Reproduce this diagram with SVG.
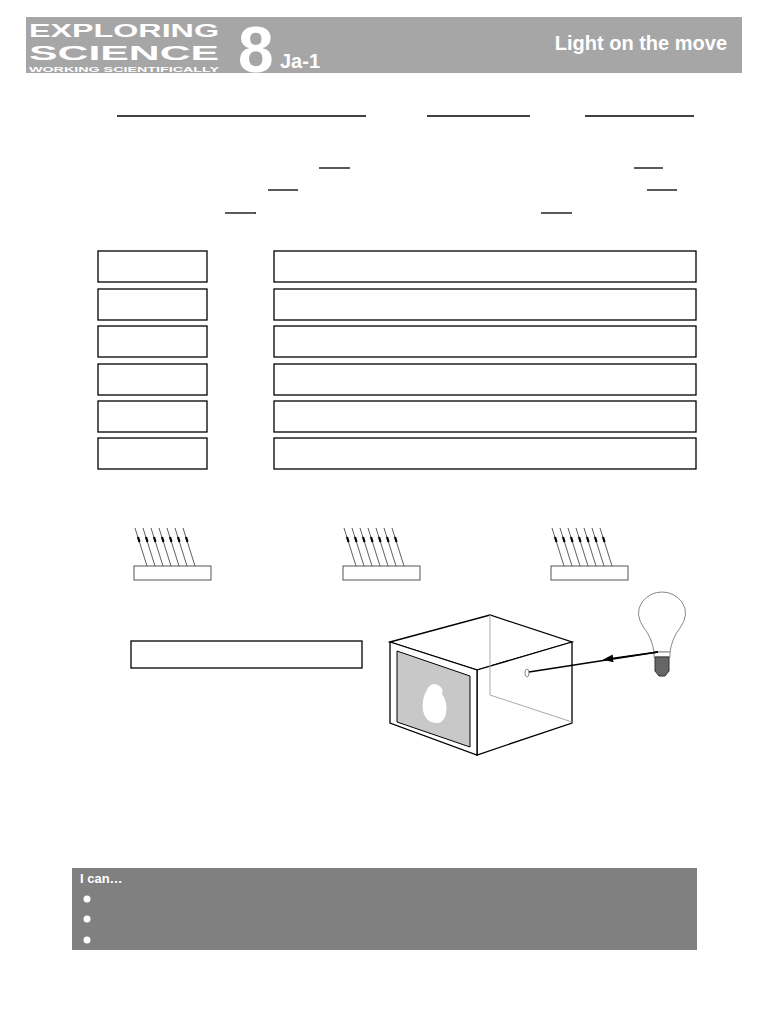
<svg xmlns="http://www.w3.org/2000/svg" width="768" height="1024" viewBox="0 0 768 1024">
<style>
.ln{stroke:#000;stroke-width:1.3;fill:none}
.bx{fill:#fff;stroke:#000;stroke-width:1.3}
.hd{font-family:"Liberation Sans",Arial,sans-serif;font-weight:bold;fill:#fff}
.ray{stroke:#333;stroke-width:0.8}
</style>
<defs>
<marker id="ah" markerWidth="8" markerHeight="6" refX="4" refY="3" orient="auto"><path d="M0,0L8,3L0,6z" fill="#000"/></marker>
<g id="rays">
<line class="ray" x1="0" y1="0" x2="12" y2="38"/><line class="ray" x1="8" y1="0" x2="20" y2="38"/><line class="ray" x1="16" y1="0" x2="28" y2="38"/><line class="ray" x1="24" y1="0" x2="36" y2="38"/><line class="ray" x1="32" y1="0" x2="44" y2="38"/><line class="ray" x1="40" y1="0" x2="52" y2="38"/><line class="ray" x1="48" y1="0" x2="60" y2="38"/>
<path d="M3,9l1.5,5M11,9l1.5,5M19,9l1.5,5M27,9l1.5,5M35,9l1.5,5M43,9l1.5,5M51,9l1.5,5" stroke="#000" stroke-width="2.2" fill="none"/>
<rect x="-1" y="38" width="77" height="14" fill="#fff" stroke="#555" stroke-width="1"/>
</g>
</defs>
<rect width="768" height="1024" fill="#fff"/>
<g id="header">
<rect x="26" y="17" width="716" height="56" fill="#a6a6a6"/>
<text class="hd" x="29" y="37" font-size="19" textLength="190" lengthAdjust="spacingAndGlyphs">EXPLORING</text>
<text class="hd" x="29" y="60" font-size="20" textLength="190" lengthAdjust="spacingAndGlyphs">SCIENCE</text>
<text class="hd" x="29" y="72" font-size="7" textLength="190" lengthAdjust="spacingAndGlyphs">WORKING SCIENTIFICALLY</text>
<text class="hd" x="238" y="72" font-size="64">8</text>
<text class="hd" x="280" y="68" font-size="20">Ja-1</text>
<text class="hd" x="727" y="50" font-size="20" text-anchor="end">Light on the move</text>
</g>
<g id="blanks" class="ln">
<line x1="117" y1="116" x2="366" y2="116"/><line x1="427" y1="116" x2="530" y2="116"/><line x1="585" y1="116" x2="694" y2="116"/>
<line x1="319" y1="168" x2="350" y2="168"/><line x1="634" y1="168" x2="663" y2="168"/>
<line x1="268" y1="190" x2="298" y2="190"/><line x1="647" y1="190" x2="677" y2="190"/>
<line x1="225" y1="213" x2="256" y2="213"/><line x1="541" y1="213" x2="572" y2="213"/>
</g>
<g id="table">
<rect class="bx" x="98" y="251" width="109" height="31"/><rect class="bx" x="274" y="251" width="422" height="31"/>
<rect class="bx" x="98" y="289" width="109" height="31"/><rect class="bx" x="274" y="289" width="422" height="31"/>
<rect class="bx" x="98" y="326" width="109" height="31"/><rect class="bx" x="274" y="326" width="422" height="31"/>
<rect class="bx" x="98" y="364" width="109" height="31"/><rect class="bx" x="274" y="364" width="422" height="31"/>
<rect class="bx" x="98" y="401" width="109" height="31"/><rect class="bx" x="274" y="401" width="422" height="31"/>
<rect class="bx" x="98" y="438" width="109" height="31"/><rect class="bx" x="274" y="438" width="422" height="31"/>
</g>
<g id="surfaces">
<use href="#rays" x="135" y="528"/><use href="#rays" x="344" y="528"/><use href="#rays" x="552" y="528"/>
</g>
<g id="label-box"><rect class="bx" x="131" y="641" width="231" height="27"/></g>
<g id="box">
<polygon points="390,642 490,615 572,642 477,670" fill="#fff" stroke="#000" stroke-width="1.3"/>
<polygon points="477,670 572,642 572,723 477,755" fill="#fff" stroke="#000" stroke-width="1.3"/>
<line x1="490" y1="615" x2="490" y2="695" stroke="#aaa"/>
<line x1="490" y1="695" x2="572" y2="722" stroke="#aaa"/>
<polygon points="390,642 477,670 477,755 390,723" fill="#fff" stroke="#000" stroke-width="1.3"/>
<polygon points="397,651 470,676 470,747 397,722" fill="#c8c8c8" stroke="#000"/>
<path d="M428,688 q4,-6 10,-3 q6,3 4,9 q6,8 4,20 q-3,10 -10,9 q-10,0 -13,-12 q-2,-12 5,-23z" fill="#fff"/>
<ellipse cx="527" cy="673" rx="2" ry="4" fill="none" stroke="#888"/>
</g>
<g id="bulb">
<path d="M654,652 q-2,-14 -10,-24 q-10,-14 -2,-26 q8,-10 20,-10 q12,0 20,10 q8,12 -2,26 q-8,10 -10,24z" fill="#fff" stroke="#888"/>
<rect x="654" y="652" width="16" height="5" fill="#fff" stroke="#888"/>
<path d="M655,657 h14 v14 l-4,5 h-6 l-4,-5z" fill="#666" stroke="#333"/>
</g>
<g id="connectors">
<line x1="529" y1="672" x2="658" y2="652" stroke="#000" stroke-width="1.3"/>
<line x1="658" y1="652" x2="608" y2="659" stroke="#000" stroke-width="1.3" marker-end="url(#ah)"/>
</g>
<g id="footer">
<rect x="72" y="868" width="625" height="82" fill="#808080"/>
<text class="hd" x="80" y="883" font-size="13">I can…</text>
<circle cx="87" cy="899" r="3.5" fill="#fff"/><circle cx="87" cy="919" r="3.5" fill="#fff"/><circle cx="87" cy="940" r="3.5" fill="#fff"/>
</g>
</svg>
